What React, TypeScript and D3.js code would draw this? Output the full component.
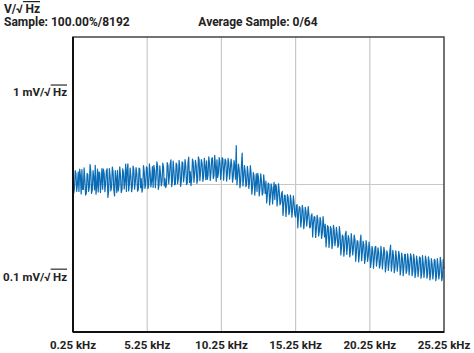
import React from 'react';
import * as d3 from 'd3';

// Frequency axis (kHz)
const X_DOMAIN: [number, number] = [0.25, 25.25];
const X_TICKS = [0.25, 5.25, 10.25, 15.25, 20.25, 25.25];
// Noise density axis (mV/√Hz), logarithmic
const Y_DOMAIN: [number, number] = [0.05, 2];
const Y_TICK_VALUES = [1, 0.1];
const Y_TICK_LABELS = ['1 mV/', '0.1 mV/'];
const Y_GRID = [0.3162];
// Spectrum bins: even bins at 0.25 + 0.1·i kHz, odd bins halfway between
const FREQ_START = 0.25;
const FREQ_STEP = 0.05;
const DENSITY_EVEN = [
  0.345, 0.300, 0.362, 0.318, 0.290, 0.352, 0.381, 0.297, 0.336, 0.284,
  0.358, 0.305, 0.371, 0.296, 0.345, 0.402, 0.310, 0.288, 0.366, 0.327,
  0.298, 0.364, 0.320, 0.385, 0.291, 0.352, 0.307, 0.372, 0.274, 0.344,
  0.377, 0.312, 0.356, 0.296, 0.368, 0.331, 0.290, 0.410, 0.318, 0.350,
  0.309, 0.378, 0.325, 0.362, 0.296, 0.384, 0.340, 0.303, 0.371, 0.318,
  0.388, 0.312, 0.366, 0.331, 0.305, 0.379, 0.342, 0.398, 0.315, 0.357,
  0.327, 0.392, 0.340, 0.316, 0.401, 0.352, 0.430, 0.330, 0.376, 0.319,
  0.405, 0.341, 0.389, 0.330, 0.415, 0.356, 0.398, 0.322, 0.446, 0.372,
  0.342, 0.418, 0.361, 0.402, 0.336, 0.430, 0.372, 0.411, 0.350, 0.396,
  0.425, 0.356, 0.412, 0.370, 0.441, 0.352, 0.398, 0.430, 0.364, 0.418,
  0.372, 0.436, 0.389, 0.425, 0.360, 0.413, 0.378, 0.402, 0.350, 0.396,
  0.514, 0.352, 0.381, 0.330, 0.468, 0.342, 0.375, 0.318, 0.362, 0.330,
  0.365, 0.308, 0.352, 0.320, 0.290, 0.345, 0.305, 0.331, 0.284, 0.318,
  0.330, 0.280, 0.318, 0.271, 0.305, 0.288, 0.262, 0.310, 0.270, 0.289,
  0.252, 0.290, 0.245, 0.275, 0.238, 0.268, 0.226, 0.258, 0.232, 0.249,
  0.210, 0.246, 0.218, 0.236, 0.205, 0.230, 0.198, 0.226, 0.209, 0.215,
  0.186, 0.219, 0.195, 0.210, 0.180, 0.204, 0.176, 0.198, 0.172, 0.190,
  0.192, 0.164, 0.186, 0.160, 0.181, 0.152, 0.178, 0.158, 0.170, 0.149,
  0.170, 0.146, 0.165, 0.142, 0.176, 0.148, 0.160, 0.138, 0.154, 0.144,
  0.159, 0.137, 0.155, 0.132, 0.168, 0.136, 0.148, 0.126, 0.145, 0.130,
  0.141, 0.122, 0.138, 0.125, 0.146, 0.123, 0.135, 0.116, 0.133, 0.124,
  0.135, 0.114, 0.132, 0.119, 0.148, 0.116, 0.129, 0.112, 0.126, 0.118,
  0.129, 0.110, 0.125, 0.113, 0.132, 0.108, 0.123, 0.115, 0.127, 0.107,
  0.124, 0.106, 0.121, 0.109, 0.126, 0.104, 0.118, 0.110, 0.123, 0.103,
  0.121, 0.103, 0.117, 0.106, 0.122, 0.101, 0.115, 0.104, 0.119, 0.100, 0.110,
];
const DENSITY_ODD = [
  0.284, 0.376, 0.290, 0.370, 0.383, 0.281, 0.297, 0.389, 0.277, 0.363,
  0.290, 0.406, 0.283, 0.376, 0.296, 0.280, 0.383, 0.370, 0.286, 0.386,
  0.383, 0.289, 0.376, 0.269, 0.386, 0.292, 0.393, 0.296, 0.376, 0.286,
  0.292, 0.394, 0.286, 0.384, 0.299, 0.408, 0.381, 0.292, 0.388, 0.289,
  0.398, 0.298, 0.391, 0.291, 0.388, 0.304, 0.287, 0.401, 0.301, 0.394,
  0.300, 0.409, 0.307, 0.395, 0.402, 0.304, 0.420, 0.297, 0.399, 0.311,
  0.413, 0.311, 0.304, 0.416, 0.319, 0.409, 0.308, 0.424, 0.315, 0.413,
  0.320, 0.428, 0.309, 0.420, 0.327, 0.432, 0.316, 0.417, 0.324, 0.312,
  0.435, 0.325, 0.428, 0.321, 0.447, 0.332, 0.432, 0.329, 0.439, 0.336,
  0.337, 0.447, 0.333, 0.439, 0.341, 0.455, 0.329, 0.345, 0.443, 0.337,
  0.442, 0.334, 0.435, 0.330, 0.438, 0.338, 0.435, 0.326, 0.427, 0.338,
  0.315, 0.408, 0.304, 0.405, 0.311, 0.401, 0.308, 0.397, 0.301, 0.401,
  0.280, 0.367, 0.277, 0.361, 0.364, 0.274, 0.361, 0.277, 0.357, 0.283,
  0.251, 0.322, 0.245, 0.319, 0.248, 0.325, 0.316, 0.242, 0.319, 0.245,
  0.282, 0.215, 0.277, 0.212, 0.279, 0.217, 0.277, 0.210, 0.274, 0.215,
  0.242, 0.184, 0.240, 0.186, 0.244, 0.182, 0.238, 0.188, 0.240, 0.184,
  0.214, 0.164, 0.212, 0.163, 0.215, 0.166, 0.210, 0.161, 0.212, 0.164,
  0.145, 0.189, 0.144, 0.187, 0.142, 0.190, 0.147, 0.185, 0.144, 0.187,
  0.131, 0.168, 0.129, 0.170, 0.132, 0.167, 0.128, 0.171, 0.131, 0.168,
  0.121, 0.157, 0.120, 0.154, 0.122, 0.156, 0.118, 0.157, 0.121, 0.154,
  0.112, 0.146, 0.111, 0.144, 0.114, 0.143, 0.111, 0.146, 0.110, 0.144,
  0.106, 0.138, 0.108, 0.137, 0.107, 0.139, 0.105, 0.138, 0.107, 0.137,
  0.102, 0.134, 0.101, 0.132, 0.104, 0.133, 0.102, 0.133, 0.101, 0.132,
  0.099, 0.129, 0.100, 0.128, 0.098, 0.130, 0.099, 0.129, 0.098, 0.128,
  0.096, 0.125, 0.097, 0.124, 0.095, 0.125, 0.097, 0.127, 0.095, 0.124,
];

const W = 474;
const H = 353;
const M = { left: 73, right: 30, top: 37, bottom: 21 };
const FONT = 'Roboto, "Noto Sans", sans-serif';
const BLUE = '#0a6cb5';

function SqrtHz() {
  return (
    <>
      <tspan>√</tspan>
      <tspan style={{ textDecoration: 'overline' }}>{'\u2009Hz'}</tspan>
    </>
  );
}

export default function App() {
  const x = d3.scaleLinear().domain(X_DOMAIN).range([M.left, W - M.right]);
  const y = d3.scaleLog().domain(Y_DOMAIN).range([H - M.bottom, M.top]);
  // interleave even/odd bins into one spectrum
  const spectrum: number[] = [];
  DENSITY_EVEN.forEach((v, i) => {
    spectrum.push(v);
    if (i < DENSITY_ODD.length) spectrum.push(DENSITY_ODD[i]);
  });
  const line = d3
    .line<number>()
    .x((_, i) => x(FREQ_START + i * FREQ_STEP))
    .y((d) => y(d));
  const x0 = M.left, x1 = W - M.right, y0 = M.top, y1 = H - M.bottom;

  return (
    <svg
      width={W}
      height={H}
      style={{ position: 'fixed', left: 0, top: 0, background: '#fff' }}
      fontFamily={FONT}
      fontWeight={700}
    >
      <rect x={0} y={0} width={W} height={H} fill="#fff" />
      {/* grid */}
      {X_TICKS.slice(1, -1).map((t) => (
        <line key={t} x1={x(t)} x2={x(t)} y1={y0} y2={y1} stroke="#c8c8c8" strokeWidth={1.2} />
      ))}
      {Y_GRID.map((v) => (
        <line key={v} x1={x0} x2={x1} y1={y(v)} y2={y(v)} stroke="#c8c8c8" strokeWidth={1.2} />
      ))}
      {/* data */}
      <path d={line(spectrum) || ''} fill="none" stroke={BLUE} strokeWidth={1.2} strokeLinejoin="round" />
      {/* frame */}
      <rect x={x0} y={y0} width={x1 - x0} height={y1 - y0} fill="none" stroke="#444" strokeWidth={1.5} />
      <line x1={x0} x2={x0} y1={y0} y2={y1} stroke="#111" strokeWidth={2} />
      <line x1={x0} x2={x1} y1={y1} y2={y1} stroke="#111" strokeWidth={2} />
      {/* x tick labels */}
      {X_TICKS.map((t) => (
        <text key={t} x={x(t)} y={349} textAnchor="middle" fontSize={11.5} fill="#222">
          {`${t.toFixed(2)} kHz`}
        </text>
      ))}
      {/* y tick labels */}
      {Y_TICK_VALUES.map((v, i) => (
        <text key={v} x={67} y={y(v)} dy="0.35em" textAnchor="end" fontSize={11.5} fill="#222">
          {Y_TICK_LABELS[i]}
          <SqrtHz />
        </text>
      ))}
      {/* header */}
      <text x={4} y={13} fontSize={12} fill="#222">
        V/<SqrtHz />
      </text>
      <text x={4} y={26} fontSize={12} fill="#222">
        Sample: 100.00%/8192
      </text>
      <text x={258} y={26} textAnchor="middle" fontSize={12} fill="#222">
        Average Sample: 0/64
      </text>
    </svg>
  );
}
